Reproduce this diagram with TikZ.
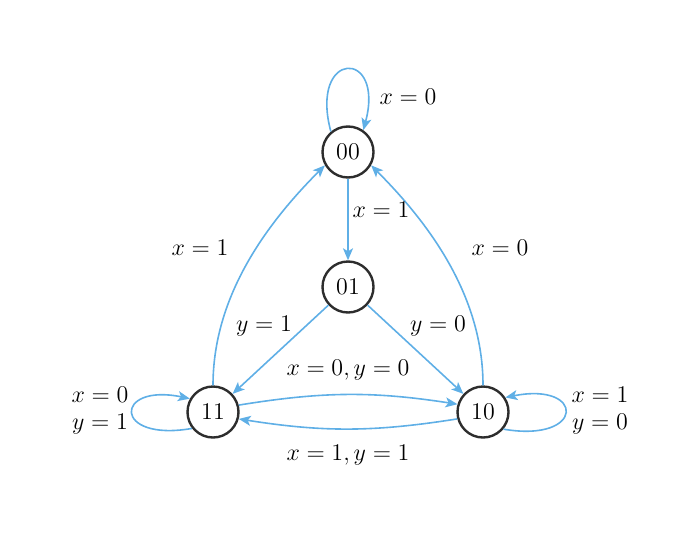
\documentclass[tikz,border=0pt]{standalone}
\usetikzlibrary{arrows.meta}
\definecolor{edgeblue}{RGB}{95,175,230}
\definecolor{ringgray}{RGB}{45,45,45}
\begin{document}
\begin{tikzpicture}[x=0.5pt,y=-0.5pt,
  state/.style={circle,draw=ringgray,line width=1.2pt,minimum size=25.5pt,inner sep=0pt,font=\fontsize{12}{14}\selectfont},
  edge/.style={draw=edgeblue,line width=0.8pt,-{Stealth[length=6pt,width=5pt,inset=1.5pt]}},
  lbl/.style={font=\fontsize{12}{13.5}\selectfont,inner sep=0pt,align=center}]
\useasboundingbox (0,0) rectangle (700,546);
\node[state] (n00) at (348,152) {00};
\node[state] (n01) at (348,287) {01};
\node[state] (n11) at (213,412) {11};
\node[state] (n10) at (483,412) {10};
% loops
\draw[edge] (n00.130) .. controls +(-22,-82) and +(22,-82) .. (n00.55);
\draw[edge] (n11.218) .. controls +(-80,14) and +(-76,-16) .. (n11.150);
\draw[edge] (n10.-40) .. controls +(82,14) and +(80,-16) .. (n10.33);
% straight
\draw[edge] (n00) -- (n01);
\draw[edge] (n01) -- (n11);
\draw[edge] (n01) -- (n10);
% arcs to 00
\draw[edge] (n11.north) to[out=90,in=-135,looseness=0.9] (n00.210);
\draw[edge] (n10.north) to[out=90,in=-45,looseness=0.9] (n00.330);
% between 11 and 10
\draw[edge] (n11.15) to[bend left=9] (n10.163);
\draw[edge] (n10.195) to[bend left=9] (n11.-15);
% labels
\node[lbl] (l1) at (408,97) {$x=0$};
\node[lbl] (l2) at (381,210) {$x=1$};
\node[lbl] (l3) at (200,248) {$x=1$};
\node[lbl] (l4) at (500,248) {$x=0$};
\node[lbl] (l5) at (264,326) {$y=1$};
\node[lbl] (l6) at (438,326) {$y=0$};
\node[lbl] (l7) at (348,370) {$x=0,y=0$};
\node[lbl] (l8) at (348,455) {$x=1,y=1$};
\node[lbl] (l9) at (100,411) {$x=0$\\$y=1$};
\node[lbl] (l10) at (600,411) {$x=1$\\$y=0$};
\end{tikzpicture}
\end{document}
